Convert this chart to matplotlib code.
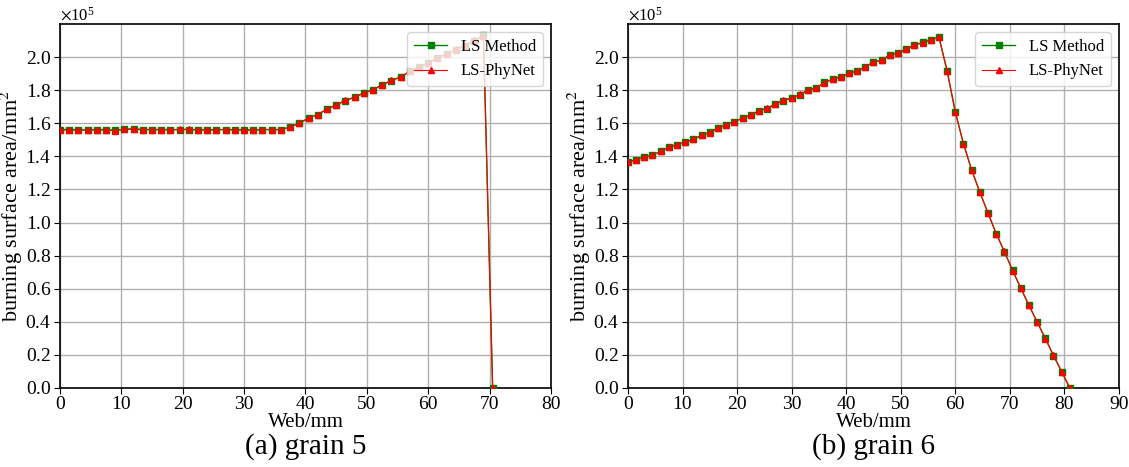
"""
燃面-肉厚曲线对比 (grain 5 / grain 6)
"""
import matplotlib
matplotlib.use('Agg')
import matplotlib.pyplot as plt
import numpy as np
from matplotlib.ticker import ScalarFormatter, MultipleLocator

plt.rcParams['font.family'] = ['Liberation Serif', 'DejaVu Serif']
plt.rcParams['mathtext.fontset'] = 'stix'

# grain 5 数据 (面积单位 1e5 mm^2)
web5 = [0.0, 1.5, 3.0, 4.5, 6.0, 7.5, 9.0, 10.5, 12.0, 13.5, 15.0, 16.5, 18.0, 19.5,
        21.0, 22.5, 24.0, 25.5, 27.0, 28.5, 30.0, 31.5, 33.0, 34.5, 36.0, 37.5, 39.0,
        40.5, 42.0, 43.5, 45.0, 46.5, 48.0, 49.5, 51.0, 52.5, 54.0, 55.5, 57.0, 58.5,
        60.0, 61.5, 63.0, 64.5, 66.0, 67.5, 69.0, 70.5]
ls5 = [1.562, 1.562, 1.560, 1.560, 1.561, 1.561, 1.558, 1.563, 1.564, 1.562, 1.562, 1.562,
       1.561, 1.562, 1.562, 1.561, 1.560, 1.562, 1.562, 1.561, 1.560, 1.560, 1.562, 1.562,
       1.562, 1.577, 1.601, 1.630, 1.653, 1.685, 1.712, 1.737, 1.758, 1.782, 1.803, 1.832,
       1.858, 1.880, 1.913, 1.940, 1.966, 1.994, 2.020, 2.045, 2.070, 2.100, 2.131, 0.0]
phy5 = [1.560, 1.560, 1.558, 1.559, 1.560, 1.560, 1.555, 1.565, 1.567, 1.562, 1.561, 1.561,
        1.560, 1.563, 1.563, 1.560, 1.558, 1.561, 1.561, 1.560, 1.559, 1.558, 1.562, 1.562,
        1.561, 1.576, 1.600, 1.632, 1.652, 1.686, 1.711, 1.738, 1.757, 1.783, 1.802, 1.833,
        1.859, 1.879, 1.914, 1.941, 1.965, 1.995, 2.019, 2.046, 2.069, 2.101, 2.130, 0.0]

# grain 6 数据
web6 = [0.0, 1.5, 3.0, 4.5, 6.0, 7.5, 9.0, 10.5, 12.0, 13.5, 15.0, 16.5, 18.0, 19.5,
        21.0, 22.5, 24.0, 25.5, 27.0, 28.5, 30.0, 31.5, 33.0, 34.5, 36.0, 37.5, 39.0,
        40.5, 42.0, 43.5, 45.0, 46.5, 48.0, 49.5, 51.0, 52.5, 54.0, 55.5, 57.0, 58.5,
        60.0, 61.5, 63.0, 64.5, 66.0, 67.5, 69.0, 70.5, 72.0, 73.5, 75.0, 76.5, 78.0,
        79.5, 81.0]
ls6 = [1.366, 1.380, 1.396, 1.406, 1.432, 1.456, 1.471, 1.485, 1.503, 1.527, 1.545, 1.572,
       1.592, 1.608, 1.632, 1.648, 1.677, 1.689, 1.717, 1.737, 1.753, 1.773, 1.801, 1.813,
       1.847, 1.865, 1.881, 1.901, 1.917, 1.941, 1.970, 1.980, 2.014, 2.024, 2.049, 2.071,
       2.089, 2.103, 2.121, 1.918, 1.668, 1.477, 1.317, 1.184, 1.057, 0.933, 0.824, 0.711,
       0.604, 0.500, 0.399, 0.300, 0.196, 0.099, 0.0]
phy6 = [1.364, 1.381, 1.394, 1.407, 1.430, 1.457, 1.470, 1.486, 1.502, 1.528, 1.544, 1.573,
        1.591, 1.609, 1.631, 1.649, 1.676, 1.690, 1.716, 1.738, 1.752, 1.774, 1.800, 1.814,
        1.846, 1.866, 1.880, 1.902, 1.916, 1.942, 1.969, 1.981, 2.013, 2.025, 2.048, 2.072,
        2.088, 2.104, 2.120, 1.917, 1.669, 1.476, 1.318, 1.183, 1.058, 0.932, 0.825, 0.710,
        0.605, 0.499, 0.400, 0.299, 0.197, 0.098, 0.0]

yticks = [0.0, 0.2, 0.4, 0.6, 0.8, 1.0, 1.2, 1.4, 1.6, 1.8, 2.0]

panels = [
    (web5, ls5, phy5, 80, '(a) grain 5'),
    (web6, ls6, phy6, 90, '(b) grain 6'),
]

fig = plt.figure(figsize=(11.29, 4.67), dpi=100)
lefts = [0.0531, 0.5562]

for (web, ls, phy, xmax, caption), left in zip(panels, lefts):
    ax = fig.add_axes([left, 0.1692, 0.4349, 0.7794])
    ax.plot(web, np.array(ls) * 1e5, 's-', color='green', lw=1, ms=4.5,
            label='LS Method', zorder=3)
    ax.plot(web, np.array(phy) * 1e5, '^-', color='red', lw=0.8, ms=4.5,
            label='LS-PhyNet', zorder=4)

    ax.set_xlim(0, xmax)
    ax.set_ylim(0, 2.2e5)
    ax.xaxis.set_major_locator(MultipleLocator(10))
    ax.set_yticks(np.array(yticks) * 1e5)
    fmt = ScalarFormatter(useMathText=True)
    fmt.set_powerlimits((0, 0))
    ax.yaxis.set_major_formatter(fmt)
    ax.yaxis.offsetText.set_fontsize(12)

    ax.grid(True, color='#b0b0b0', lw=1)
    ax.set_axisbelow(True)
    ax.tick_params(labelsize=14, direction='out', length=4, pad=2)
    for s in ax.spines.values():
        s.set_linewidth(1.2)

    ax.set_xlabel('Web/mm', fontsize=15, labelpad=0)
    ax.set_ylabel('burning surface area/mm$^2$', fontsize=16, labelpad=0)
    ax.legend(loc='upper right', fontsize=12)

    fig.text(left + 0.4349 / 2, 0.043, caption, ha='center', va='center', fontsize=21)

plt.savefig('out.png', dpi=100)
